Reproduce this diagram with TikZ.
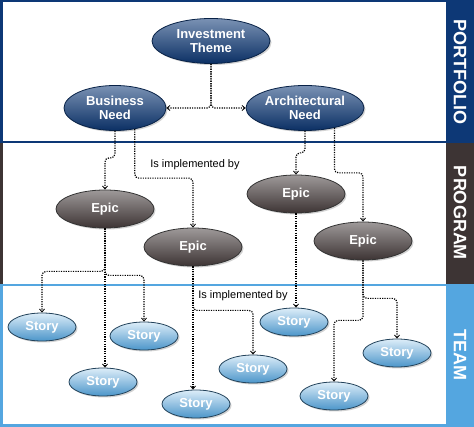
\documentclass[tikz,border=0pt]{standalone}
\usepackage{fontspec}
\setmainfont{Liberation Sans}
\usepackage{tikz}
\usetikzlibrary{positioning, arrows.meta, shapes.geometric, shadows, calc}
\usepackage{xcolor}

\definecolor{portcol}{RGB}{13,56,118}
\definecolor{progcol}{RGB}{61,52,52}
\definecolor{teamcol}{RGB}{84,166,224}

\begin{document}
\begin{tikzpicture}[x=1pt, y=-1pt,
  oval/.style={ellipse, inner sep=0pt, align=center, text=white,
    font=\fontsize{13}{14}\selectfont\bfseries,
    drop shadow={shadow xshift=1.5pt, shadow yshift=-1.5pt, opacity=0.35}},
  needbox/.style={oval, top color=portcol!55!white, bottom color=portcol!85!black, draw=portcol!60!black, thick},
  epicbox/.style={oval, minimum width=98pt, minimum height=38pt, top color=progcol!50!white, bottom color=progcol, draw=black!80, thick},
  storybox/.style={oval, minimum width=68pt, minimum height=28pt, top color=teamcol!20!white, bottom color=teamcol!90!black, draw=teamcol!40!black, thick},
  conn/.style={draw=black, line width=1.2pt, dash pattern=on 1.2pt off 1.2pt, rounded corners=4pt, -{Straight Barb[length=3pt, width=5pt, line width=0.8pt]}},
  bandlbl/.style={rotate=-90, text=white, font=\fontsize{18}{18}\selectfont\bfseries},
  implbl/.style={font=\fontsize{11}{12}\selectfont}]
\useasboundingbox (0,0) rectangle (474,427);

% Portfolio Section
\fill[portcol] (0,0) rectangle (474,143);
\fill[white] (2.5,2.5) rectangle (446,141);
\node[bandlbl] (portlbl) at (460,72) {PORTFOLIO};

% Program Section
\fill[progcol] (0,143) rectangle (474,284);
\fill[white] (2.5,143) rectangle (446,284);
\node[bandlbl] (proglbl) at (460,213) {PROGRAM};

% Team Section
\fill[teamcol] (0,284) rectangle (474,427);
\fill[white] (2.5,286.5) rectangle (446,424.5);
\node[bandlbl] (teamlbl) at (460,355) {TEAM};

% Portfolio nodes
\node[needbox, minimum width=118pt, minimum height=45pt] (theme) at (211,41) {Investment\\Theme};
\node[needbox, minimum width=102pt, minimum height=45pt] (bneed) at (115,108) {Business\\Need};
\node[needbox, minimum width=118pt, minimum height=45pt] (aneed) at (305,108) {Architectural\\Need};

% Program nodes
\node[epicbox] (epic1) at (105,209) {Epic};
\node[epicbox] (epic2) at (193,247) {Epic};
\node[epicbox] (epic3) at (296,194) {Epic};
\node[epicbox] (epic4) at (363,241) {Epic};

% Team nodes
\node[storybox] (story1) at (42,327) {Story};
\node[storybox] (story2) at (103,382) {Story};
\node[storybox] (story3) at (144,336) {Story};
\node[storybox] (story4) at (196,404) {Story};
\node[storybox] (story5) at (253,369) {Story};
\node[storybox] (story6) at (294,322) {Story};
\node[storybox] (story7) at (334,396) {Story};
\node[storybox] (story8) at (397,353) {Story};

% Labels
\node[implbl] (impl1) at (195,165) {Is implemented by};
\node[implbl] (impl2) at (243,296) {Is implemented by};

% Theme to needs
\draw[conn] (theme.south) |- (bneed.east);
\draw[conn] (theme.south) |- (aneed.west);

% Needs to epics
\draw[conn] (bneed.south) -- ++(0,27) -| (epic1.north);
\draw[conn] (bneed.-47) -- ++(0,49) -| (epic2.north);
\draw[conn] (aneed.south) -- ++(0,22) -| (epic3.north);
\draw[conn] (aneed.-34) -- ++(0,45) -| (epic4.north);

% Epics to stories
\draw[conn] (epic1.south) -- ++(0,43) -| (story1.north);
\draw[conn] (epic1.south) -- (epic1.south |- story2.north);
\draw[conn] (epic1.south) -- ++(0,47) -| (story3.north);
\draw[conn] (epic2.south) -- (epic2.south |- story4.north);
\draw[conn] (epic2.south) -- ++(0,44) -| (story5.north);
\draw[conn] (epic3.south) -- (epic3.south |- story6.north);
\draw[conn] (epic4.south) -- ++(0,60) -| (story7.north);
\draw[conn] (epic4.south) -- ++(0,38) -| (story8.north);
\end{tikzpicture}
\end{document}
